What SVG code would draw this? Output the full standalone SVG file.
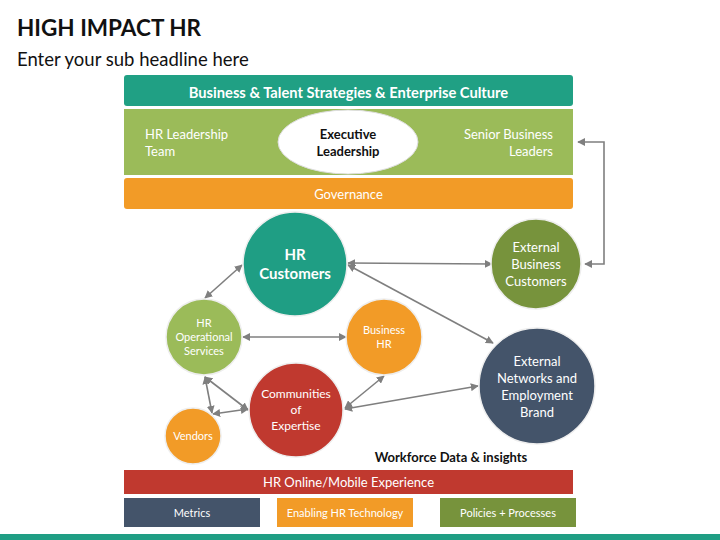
<svg xmlns="http://www.w3.org/2000/svg" width="720" height="540" viewBox="0 0 720 540">
<defs>
<style>
text{font-family:Lato,"Open Sans","Liberation Sans",sans-serif;}
.w{fill:#fff;text-anchor:middle;}
.b{font-weight:bold;}
.con{stroke:#7f7f7f;stroke-width:1.6;fill:none;marker-start:url(#ah);marker-end:url(#ah);}
.circ{stroke:#eeeeee;stroke-width:1.5;}
</style>
<marker id="ah" viewBox="0 0 10 10" refX="9" refY="5" markerWidth="5" markerHeight="5" orient="auto-start-reverse" markerUnits="strokeWidth">
<path d="M0,0 L10,5 L0,10 z" fill="#7f7f7f"/>
</marker>
</defs>
<rect width="720" height="540" fill="#fff"/>
<g id="title">
<text x="17" y="36" font-size="22.5" class="b" fill="#111">HIGH IMPACT HR</text>
<text x="17" y="66" font-size="18.5" fill="#111">Enter your sub headline here</text>
</g>
<g id="strategy">
<rect x="124" y="75" width="449" height="31" rx="3" fill="#20a084"/>
<text x="348.5" y="98" font-size="14.7" class="w b">Business &amp; Talent Strategies &amp; Enterprise Culture</text>
</g>
<g id="leadership">
<rect x="124" y="109" width="449" height="66" fill="#9bbb59"/>
<text x="145" y="139" font-size="13" fill="#fff">HR Leadership</text>
<text x="145" y="156" font-size="13" fill="#fff">Team</text>
<text x="553" y="139" font-size="13" fill="#fff" text-anchor="end">Senior Business</text>
<text x="553" y="156" font-size="13" fill="#fff" text-anchor="end">Leaders</text>
</g>
<g id="executive">
<ellipse cx="348" cy="142" rx="70" ry="32" fill="#fff" stroke="#ddd" stroke-width="1"/>
<text x="348" y="139" font-size="13" class="b" fill="#111" text-anchor="middle">Executive</text>
<text x="348" y="156" font-size="13" class="b" fill="#111" text-anchor="middle">Leadership</text>
</g>
<g id="governance">
<rect x="124" y="178" width="449" height="31" rx="3" fill="#f29b27"/>
<text x="348.5" y="199" font-size="13" class="w">Governance</text>
</g>
<g id="connectors">
<path class="con" d="M578,142 H604 V264 H585"/>
<line class="con" x1="242" y1="265" x2="205" y2="298"/>
<line class="con" x1="243" y1="337" x2="346" y2="337"/>
<line class="con" x1="348" y1="263" x2="492" y2="264"/>
<line class="con" x1="348" y1="265" x2="493" y2="343"/>
<line class="con" x1="205" y1="377" x2="248" y2="410"/>
<line class="con" x1="205" y1="377" x2="212" y2="413"/>
<line class="con" x1="213" y1="414" x2="248" y2="409"/>
<line class="con" x1="345" y1="408" x2="384" y2="376"/>
<line class="con" x1="345" y1="409" x2="478" y2="386"/>
</g>
<g id="hr-customers">
<circle cx="295" cy="264" r="52" fill="#1f9e84" class="circ"/>
<text x="295" y="260" font-size="15" class="w b">HR</text>
<text x="295" y="279" font-size="15" class="w b">Customers</text>
</g>
<g id="external-business-customers">
<circle cx="536" cy="264" r="45" fill="#77933c" class="circ"/>
<text x="536" y="252" font-size="13" class="w">External</text>
<text x="536" y="269" font-size="13" class="w">Business</text>
<text x="536" y="286" font-size="13" class="w">Customers</text>
</g>
<g id="hr-operational-services">
<circle cx="204" cy="337" r="38" fill="#9bbb59" class="circ"/>
<text x="204" y="327" font-size="11" class="w">HR</text>
<text x="204" y="341" font-size="11" class="w">Operational</text>
<text x="204" y="355" font-size="11" class="w">Services</text>
</g>
<g id="business-hr">
<circle cx="384" cy="337" r="38" fill="#f29b27" class="circ"/>
<text x="384" y="334" font-size="11" class="w">Business</text>
<text x="384" y="348" font-size="11" class="w">HR</text>
</g>
<g id="external-networks">
<circle cx="537" cy="386" r="58" fill="#44546a" class="circ"/>
<text x="537" y="366" font-size="13" class="w">External</text>
<text x="537" y="383" font-size="13" class="w">Networks and</text>
<text x="537" y="400" font-size="13" class="w">Employment</text>
<text x="537" y="417" font-size="13" class="w">Brand</text>
</g>
<g id="communities">
<circle cx="296" cy="410" r="47" fill="#c0392f" class="circ"/>
<text x="296" y="398" font-size="12" class="w">Communities</text>
<text x="296" y="414" font-size="12" class="w">of</text>
<text x="296" y="430" font-size="12" class="w">Expertise</text>
</g>
<g id="vendors">
<circle cx="193" cy="436" r="28" fill="#f29b27" class="circ"/>
<text x="193" y="440" font-size="11" class="w">Vendors</text>
</g>
<g id="workforce">
<text x="451" y="462" font-size="13" class="b" fill="#111" text-anchor="middle">Workforce Data &amp; insights</text>
</g>
<g id="online">
<rect x="124" y="470" width="449" height="24" fill="#c0392f"/>
<text x="348.5" y="487" font-size="13" class="w">HR Online/Mobile Experience</text>
</g>
<g id="metrics">
<rect x="124" y="498" width="136" height="29" fill="#44546a"/>
<text x="192" y="517" font-size="11" class="w">Metrics</text>
</g>
<g id="technology">
<rect x="277" y="498" width="136" height="29" fill="#f29b27"/>
<text x="345" y="517" font-size="11" class="w">Enabling HR Technology</text>
</g>
<g id="policies">
<rect x="440" y="498" width="136" height="29" fill="#77933c"/>
<text x="508" y="517" font-size="11" class="w">Policies + Processes</text>
</g>
<rect x="0" y="534" width="720" height="6" fill="#1f9e84"/>
</svg>
